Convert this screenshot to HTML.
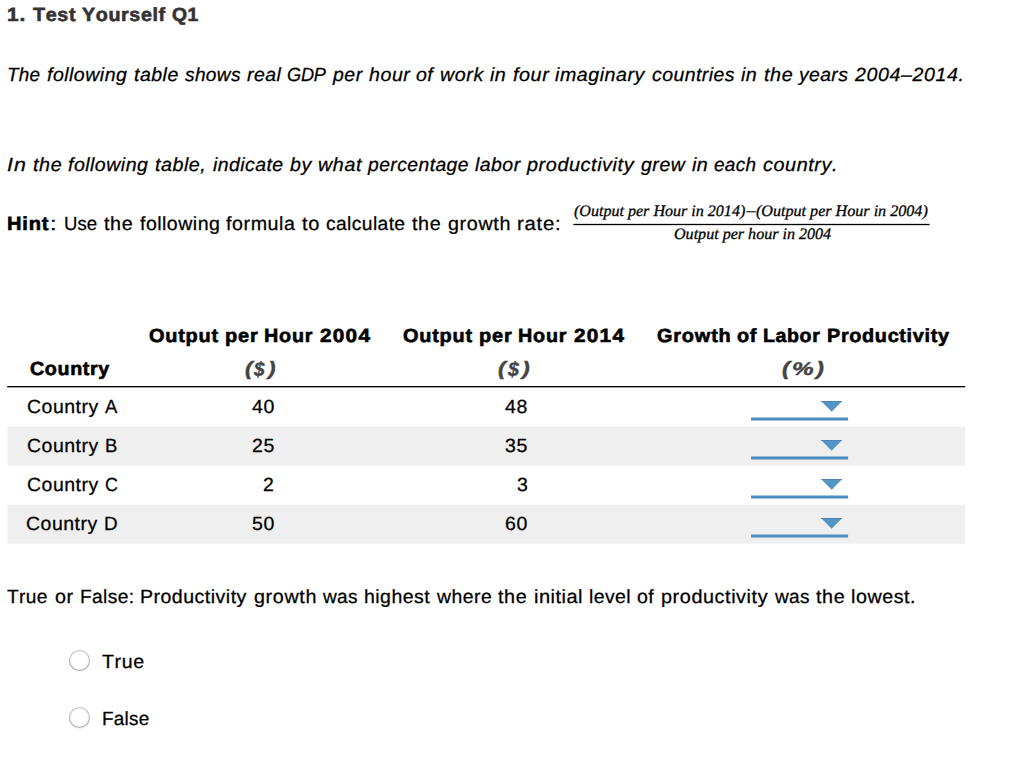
<!DOCTYPE html>
<html lang="en"><head><meta charset="utf-8"><title>Test Yourself Q1</title>
<style>
html,body{margin:0;padding:0;background:#fff}
body{width:1024px;height:772px;position:relative;overflow:hidden;font-family:'Liberation Sans',sans-serif;font-size:18.5px}
h1,p,table,thead,tbody,tr,th,td,div,label{margin:0;padding:0;border:0;display:block;height:0;font:inherit}
.bg{position:absolute;left:0;top:0}
.t{position:absolute;white-space:nowrap;line-height:normal;color:#000;font-kerning:none;text-rendering:geometricPrecision;transform-origin:0 17px;font-family:'Liberation Sans',sans-serif;font-size:18.5px}
.r{font-weight:normal;font-style:normal;-webkit-text-stroke:0.25px #000}
.i{font-weight:normal;font-style:italic;-webkit-text-stroke:0.25px #000}
.b{font-weight:bold;font-style:normal;-webkit-text-stroke:0.6px #000}
.bi{font-weight:bold;font-style:italic;-webkit-text-stroke:0.5px #000}
.s{color:#444;-webkit-text-stroke:0.4px #444;transform-origin:0 0}
.f{font:italic 16px 'Liberation Serif',serif;-webkit-text-stroke:0.3px #000;transform-origin:0 0}
.dash{font:italic 16px 'Liberation Serif',serif;left:746px;top:203px;color:transparent}
</style></head><body>
<svg class="bg" width="1024" height="772" viewBox="0 0 1024 772">
<defs>
<linearGradient id="rg" x1="0" y1="0" x2="0" y2="1"><stop offset="0" stop-color="#c4c4c4"/><stop offset="1" stop-color="#b0b0b0"/></linearGradient>
<radialGradient id="rf" cx="0.5" cy="0.5" r="0.5"><stop offset="0.72" stop-color="#ffffff"/><stop offset="1" stop-color="#f0f0f0"/></radialGradient>
</defs>
<!-- zebra stripes, header rule, fraction bar, en dash -->
<rect x="7.5" y="426.7" width="957.7" height="39" fill="#efefef"/>
<rect x="7.5" y="504.7" width="957.7" height="39" fill="#efefef"/>
<rect x="7.2" y="386" width="958" height="1.35" fill="#000"/>
<rect x="573.4" y="223.85" width="356.2" height="1.3" fill="#000"/>
<rect x="746.4" y="211.1" width="9.5" height="1.3" fill="#333"/>
<!-- dropdown selects -->
<rect x="751" y="417.5" width="97.1" height="3" fill="#4c8ec1"/><path d="M821 401 H842.2 L831.7 411.7 Z" fill="#5595c5"/><rect x="821.2" y="401" width="20.8" height="1" fill="#4886bd"/>
<rect x="751" y="456.5" width="97.1" height="3" fill="#4c8ec1"/><path d="M821 440 H842.2 L831.7 450.7 Z" fill="#5595c5"/><rect x="821.2" y="440" width="20.8" height="1" fill="#4886bd"/>
<rect x="751" y="495.5" width="97.1" height="3" fill="#4c8ec1"/><path d="M821 479 H842.2 L831.7 489.7 Z" fill="#5595c5"/><rect x="821.2" y="479" width="20.8" height="1" fill="#4886bd"/>
<rect x="751" y="534.5" width="97.1" height="3" fill="#4c8ec1"/><path d="M821 518 H842.2 L831.7 528.7 Z" fill="#5595c5"/><rect x="821.2" y="518" width="20.8" height="1" fill="#4886bd"/>
<!-- radio buttons -->
<circle cx="79.5" cy="661.3" r="10.1" fill="none" stroke="#f0f0f0" stroke-width="1.1"/><circle cx="79.5" cy="660.5" r="10" fill="url(#rf)" stroke="url(#rg)" stroke-width="1.05"/>
<circle cx="79.5" cy="718.3" r="10.1" fill="none" stroke="#f0f0f0" stroke-width="1.1"/><circle cx="79.5" cy="717.5" r="10" fill="url(#rf)" stroke="url(#rg)" stroke-width="1.05"/>
</svg>
<h1><span class="t b" style="left:7.08px;top:4px;letter-spacing:0.858px;color:#333;-webkit-text-stroke-color:#333;transform:scale(1.1251,1.03)">1.</span> <span class="t b" style="left:33.17px;top:4px;letter-spacing:0.592px;color:#333;-webkit-text-stroke-color:#333;transform:scale(1.0664,1.03)">Test</span> <span class="t b" style="left:82.41px;top:4px;letter-spacing:0.572px;color:#333;-webkit-text-stroke-color:#333;transform:scale(1.0658,1.03)">Yourself</span> <span class="t b" style="left:172.31px;top:4px;letter-spacing:0.529px;color:#333;-webkit-text-stroke-color:#333;transform:scale(1.0448,1.03)">Q1</span></h1>
<p><span class="t i" style="left:6.81px;top:64px;letter-spacing:0.215px;transform:scale(1.0206,1.03)">The</span> <span class="t i" style="left:47.16px;top:64px;letter-spacing:0.438px;transform:scale(1.0579,1.03)">following</span> <span class="t i" style="left:133.83px;top:64px;letter-spacing:0.440px;transform:scale(1.0580,1.03)">table</span> <span class="t i" style="left:184.87px;top:64px;letter-spacing:0.325px;transform:scale(1.0319,1.03)">shows</span> <span class="t i" style="left:247.04px;top:64px;letter-spacing:0.391px;transform:scale(1.0534,1.03)">real</span> <span class="t i" style="left:287.20px;top:64px;letter-spacing:-0.240px;transform:scale(0.9824,1.03)">GDP</span> <span class="t i" style="left:332.56px;top:64px;letter-spacing:0.454px;transform:scale(1.0536,1.03)">per</span> <span class="t i" style="left:368.54px;top:64px;letter-spacing:0.514px;transform:scale(1.0588,1.03)">hour</span> <span class="t i" style="left:416.21px;top:64px;letter-spacing:0.429px;transform:scale(1.0588,1.03)">of</span> <span class="t i" style="left:439.87px;top:64px;letter-spacing:0.579px;transform:scale(1.0631,1.03)">work</span> <span class="t i" style="left:490.12px;top:64px;letter-spacing:0.451px;transform:scale(1.0668,1.03)">in</span> <span class="t i" style="left:512.82px;top:64px;letter-spacing:0.518px;transform:scale(1.0695,1.03)">four</span> <span class="t i" style="left:555.47px;top:64px;letter-spacing:0.510px;transform:scale(1.0607,1.03)">imaginary</span> <span class="t i" style="left:651.69px;top:64px;letter-spacing:0.413px;transform:scale(1.0521,1.03)">countries</span> <span class="t i" style="left:740.94px;top:64px;letter-spacing:0.451px;transform:scale(1.0668,1.03)">in</span> <span class="t i" style="left:763.65px;top:64px;letter-spacing:0.544px;transform:scale(1.0678,1.03)">the</span> <span class="t i" style="left:799.09px;top:64px;letter-spacing:0.383px;transform:scale(1.0441,1.03)">years</span> <span class="t i" style="left:854.76px;top:64px;letter-spacing:0.556px;transform:scale(1.0603,1.03)">2004–2014.</span></p>
<p><span class="t i" style="left:7.39px;top:154px;letter-spacing:1.025px;transform:scale(1.1532,1.03)">In</span> <span class="t i" style="left:32.99px;top:154px;letter-spacing:0.544px;transform:scale(1.0678,1.03)">the</span> <span class="t i" style="left:68.46px;top:154px;letter-spacing:0.438px;transform:scale(1.0579,1.03)">following</span> <span class="t i" style="left:155.14px;top:154px;letter-spacing:0.474px;transform:scale(1.0670,1.03)">table,</span> <span class="t i" style="left:212.76px;top:154px;letter-spacing:0.399px;transform:scale(1.0527,1.03)">indicate</span> <span class="t i" style="left:289.65px;top:154px;letter-spacing:0.548px;transform:scale(1.0594,1.03)">by</span> <span class="t i" style="left:317.87px;top:154px;letter-spacing:0.581px;transform:scale(1.0633,1.03)">what</span> <span class="t i" style="left:368.12px;top:154px;letter-spacing:0.401px;transform:scale(1.0452,1.03)">percentage</span> <span class="t i" style="left:475.41px;top:154px;letter-spacing:0.420px;transform:scale(1.0538,1.03)">labor</span> <span class="t i" style="left:527.37px;top:154px;letter-spacing:0.528px;transform:scale(1.0726,1.03)">productivity</span> <span class="t i" style="left:640.86px;top:154px;letter-spacing:0.503px;transform:scale(1.0529,1.03)">grew</span> <span class="t i" style="left:691.51px;top:154px;letter-spacing:0.451px;transform:scale(1.0668,1.03)">in</span> <span class="t i" style="left:714.06px;top:154px;letter-spacing:0.265px;transform:scale(1.0271,1.03)">each</span> <span class="t i" style="left:762.85px;top:154px;letter-spacing:0.540px;transform:scale(1.0702,1.03)">country.</span></p>
<p><span class="t b" style="left:6.59px;top:213px;letter-spacing:0.722px;transform:scale(1.0873,1.03)">Hint</span><span class="t r" style="left:50.41px;top:213px;letter-spacing:1.171px;transform:scale(1.2950,1.03)">:</span> <span class="t r" style="left:64.18px;top:213px;letter-spacing:0.061px;transform:scale(1.0056,1.03)">Use</span> <span class="t r" style="left:104.05px;top:213px;letter-spacing:0.544px;transform:scale(1.0678,1.03)">the</span> <span class="t r" style="left:139.52px;top:213px;letter-spacing:0.438px;transform:scale(1.0579,1.03)">following</span> <span class="t r" style="left:226.23px;top:213px;letter-spacing:0.529px;transform:scale(1.0639,1.03)">formula</span> <span class="t r" style="left:302.18px;top:213px;letter-spacing:0.595px;transform:scale(1.0836,1.03)">to</span> <span class="t r" style="left:326.38px;top:213px;letter-spacing:0.343px;transform:scale(1.0441,1.03)">calculate</span> <span class="t r" style="left:412.29px;top:213px;letter-spacing:0.544px;transform:scale(1.0678,1.03)">the</span> <span class="t r" style="left:447.84px;top:213px;letter-spacing:0.586px;transform:scale(1.0676,1.03)">growth</span> <span class="t r" style="left:517.27px;top:213px;letter-spacing:0.677px;transform:scale(1.1006,1.03)">rate:</span> <span class="frac"><span class="t f" style="left:573.90px;top:203px;transform:scaleX(1.0035)">(Output per Hour in 2014)</span><span class="t dash">&ndash;</span><span class="t f" style="left:756.10px;top:203px;transform:scaleX(1.0065)">(Output per Hour in 2004)</span> <span class="t f" style="left:673.50px;top:226px;transform:scaleX(1.0045)">Output per hour in 2004</span></span></p>
<table><thead><tr><th><span class="t b" style="left:30.22px;top:358px;letter-spacing:0.603px;transform:scale(1.0632,1.03)">Country</span></th><th><span class="t b" style="left:148.75px;top:325px;letter-spacing:0.720px;transform:scale(1.0768,1.03)">Output</span> <span class="t b" style="left:224.84px;top:325px;letter-spacing:0.723px;transform:scale(1.0814,1.03)">per</span> <span class="t b" style="left:264.47px;top:325px;letter-spacing:0.704px;transform:scale(1.0698,1.03)">Hour</span> <span class="t b" style="left:320.07px;top:325px;letter-spacing:1.118px;transform:scale(1.1219,1.03)">2004</span> <span class="t bi s" style="left:244.60px;top:358px;font-size:19.5px;transform:scaleX(1.1750)">(</span><span class="t bi s" style="left:254.30px;top:359px;font-size:20px;transform:scaleX(0.9417)">$</span><span class="t bi s" style="left:267.82px;top:358px;font-size:19.5px;transform:scaleX(1.1625)">)</span></th><th><span class="t b" style="left:402.55px;top:325px;letter-spacing:0.720px;transform:scale(1.0768,1.03)">Output</span> <span class="t b" style="left:478.64px;top:325px;letter-spacing:0.723px;transform:scale(1.0814,1.03)">per</span> <span class="t b" style="left:518.27px;top:325px;letter-spacing:0.704px;transform:scale(1.0698,1.03)">Hour</span> <span class="t b" style="left:573.87px;top:325px;letter-spacing:1.118px;transform:scale(1.1219,1.03)">2014</span> <span class="t bi s" style="left:498.10px;top:358px;font-size:19.5px;transform:scaleX(1.1875)">(</span><span class="t bi s" style="left:507.60px;top:359px;font-size:20px;transform:scaleX(0.9833)">$</span><span class="t bi s" style="left:521.67px;top:358px;font-size:19.5px;transform:scaleX(1.1875)">)</span></th><th><span class="t b" style="left:656.67px;top:325px;letter-spacing:0.760px;transform:scale(1.0757,1.03)">Growth</span> <span class="t b" style="left:737.28px;top:325px;letter-spacing:0.581px;transform:scale(1.0713,1.03)">of</span> <span class="t b" style="left:763.38px;top:325px;letter-spacing:0.566px;transform:scale(1.0583,1.03)">Labor</span> <span class="t b" style="left:826.95px;top:325px;letter-spacing:0.609px;transform:scale(1.0734,1.03)">Productivity</span> <span class="t bi s" style="left:782.00px;top:358px;font-size:19.5px;transform:scaleX(1.2250)">(</span><span class="t bi s" style="left:791.69px;top:358px;font-size:18.5px;transform:scaleX(1.3133)">%</span><span class="t bi s" style="left:815.92px;top:358px;font-size:19.5px;transform:scaleX(1.2125)">)</span></th></tr></thead><tbody>
<tr><td><span class="t r" style="left:26.98px;top:396px;letter-spacing:0.469px;transform:scale(1.0534,1.03)">Country</span> <span class="t r" style="left:104.75px;top:396px;letter-spacing:-0.020px;transform:scale(0.9984,1.03)">A</span></td><td><span class="t r" style="left:251.55px;top:396px;letter-spacing:0.546px;transform:scale(1.0561,1.03)">40</span></td><td><span class="t r" style="left:505.15px;top:396px;letter-spacing:0.546px;transform:scale(1.0561,1.03)">48</span></td><td></td></tr>
<tr><td><span class="t r" style="left:26.96px;top:435px;letter-spacing:0.469px;transform:scale(1.0534,1.03)">Country</span> <span class="t r" style="left:104.74px;top:435px;letter-spacing:-0.002px;transform:scale(0.9998,1.03)">B</span></td><td><span class="t r" style="left:251.55px;top:435px;letter-spacing:0.546px;transform:scale(1.0561,1.03)">25</span></td><td><span class="t r" style="left:505.15px;top:435px;letter-spacing:0.546px;transform:scale(1.0561,1.03)">35</span></td><td></td></tr>
<tr><td><span class="t r" style="left:26.95px;top:474px;letter-spacing:0.469px;transform:scale(1.0534,1.03)">Country</span> <span class="t r" style="left:104.53px;top:474px;letter-spacing:-0.416px;transform:scale(0.9698,1.03)">C</span></td><td><span class="t r" style="left:262.96px;top:474px;letter-spacing:0.543px;transform:scale(1.0557,1.03)">2</span></td><td><span class="t r" style="left:516.56px;top:474px;letter-spacing:0.543px;transform:scale(1.0557,1.03)">3</span></td><td></td></tr>
<tr><td><span class="t r" style="left:26.10px;top:513px;letter-spacing:0.469px;transform:scale(1.0534,1.03)">Country</span> <span class="t r" style="left:104.00px;top:513px;letter-spacing:0.243px;transform:scale(1.0185,1.03)">D</span></td><td><span class="t r" style="left:251.55px;top:513px;letter-spacing:0.546px;transform:scale(1.0561,1.03)">50</span></td><td><span class="t r" style="left:505.15px;top:513px;letter-spacing:0.546px;transform:scale(1.0561,1.03)">60</span></td><td></td></tr>
</tbody></table>
<p><span class="t r" style="left:6.58px;top:586px;letter-spacing:0.342px;transform:scale(1.0373,1.03)">True</span> <span class="t r" style="left:54.88px;top:586px;letter-spacing:0.505px;transform:scale(1.0654,1.03)">or</span> <span class="t r" style="left:79.72px;top:586px;letter-spacing:0.319px;transform:scale(1.0395,1.03)">False:</span> <span class="t r" style="left:140.48px;top:586px;letter-spacing:0.440px;transform:scale(1.0585,1.03)">Productivity</span> <span class="t r" style="left:253.70px;top:586px;letter-spacing:0.586px;transform:scale(1.0676,1.03)">growth</span> <span class="t r" style="left:322.92px;top:586px;letter-spacing:0.325px;transform:scale(1.0306,1.03)">was</span> <span class="t r" style="left:364.23px;top:586px;letter-spacing:0.439px;transform:scale(1.0542,1.03)">highest</span> <span class="t r" style="left:436.70px;top:586px;letter-spacing:0.463px;transform:scale(1.0482,1.03)">where</span> <span class="t r" style="left:498.32px;top:586px;letter-spacing:0.544px;transform:scale(1.0678,1.03)">the</span> <span class="t r" style="left:533.81px;top:586px;letter-spacing:0.454px;transform:scale(1.0816,1.03)">initial</span> <span class="t r" style="left:589.14px;top:586px;letter-spacing:0.372px;transform:scale(1.0514,1.03)">level</span> <span class="t r" style="left:637.48px;top:586px;letter-spacing:0.429px;transform:scale(1.0588,1.03)">of</span> <span class="t r" style="left:661.11px;top:586px;letter-spacing:0.528px;transform:scale(1.0726,1.03)">productivity</span> <span class="t r" style="left:774.50px;top:586px;letter-spacing:0.325px;transform:scale(1.0306,1.03)">was</span> <span class="t r" style="left:815.87px;top:586px;letter-spacing:0.544px;transform:scale(1.0678,1.03)">the</span> <span class="t r" style="left:851.38px;top:586px;letter-spacing:0.507px;transform:scale(1.0656,1.03)">lowest.</span></p>
<div><label><span class="t r" style="left:102.29px;top:651px;letter-spacing:0.547px;transform:scale(1.0610,1.03)">True</span></label> <label><span class="t r" style="left:102.11px;top:708px;letter-spacing:0.219px;transform:scale(1.0248,1.03)">False</span></label></div>
</body></html>
